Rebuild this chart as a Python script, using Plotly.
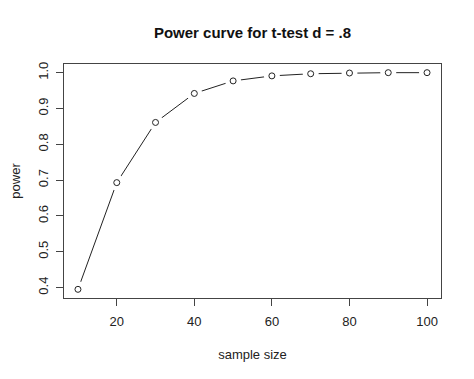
import plotly.graph_objects as go

sample_size = [10, 20, 30, 40, 50, 60, 70, 80, 90, 100]
power = [0.395, 0.693, 0.861, 0.942, 0.977, 0.991, 0.997, 0.999, 1.0, 1.0]
x_ticks = [20, 40, 60, 80, 100]
y_ticks = [0.4, 0.5, 0.6, 0.7, 0.8, 0.9, 1.0]

# page body has an 8px margin, so the figure is sized/offset to compensate
W, H = 466, 371

fig = go.Figure()
fig.add_trace(go.Scatter(x=sample_size, y=power, mode="lines",
                         line=dict(color="#222222", width=1), hoverinfo="skip"))
# white halo to create the gaps of R's type="b"
fig.add_trace(go.Scatter(x=sample_size, y=power, mode="markers",
                         marker=dict(size=16, color="white", line=dict(width=0)), hoverinfo="skip"))
fig.add_trace(go.Scatter(x=sample_size, y=power, mode="markers",
                         marker=dict(size=6, color="white", line=dict(color="#222222", width=1))))

axis_common = dict(showline=True, linecolor="#444444", linewidth=1, mirror=True,
                   ticks="outside", ticklen=7, tickcolor="#444444", showgrid=False,
                   zeroline=False, automargin=False, tickfont=dict(size=13, color="#222222"))

fig.update_layout(
    width=W, height=H,
    margin=dict(l=56, r=33, t=56, b=81, autoexpand=False),
    paper_bgcolor="white", plot_bgcolor="white",
    showlegend=False,
    font=dict(family="Liberation Sans, Arial, sans-serif", color="#222222"),
    title=dict(text="<b>Power curve for t-test d = .8</b>", x=(56 + 433) / 2 / W,
               xanchor="center", y=1 - 25 / H, yanchor="middle", automargin=False,
               font=dict(size=15, color="#111111")),
    xaxis=dict(range=[6.4, 103.6], tickvals=x_ticks, ticklabelstandoff=4,
               title=dict(text="sample size", standoff=22, font=dict(size=13)), **axis_common),
    yaxis=dict(range=[0.3708, 1.0242], tickvals=y_ticks, tickformat=".1f", tickangle=-90,
               ticklabelstandoff=3,
               title=dict(text="power", standoff=12, font=dict(size=13)), **axis_common),
)

fig.write_html("out.html")
